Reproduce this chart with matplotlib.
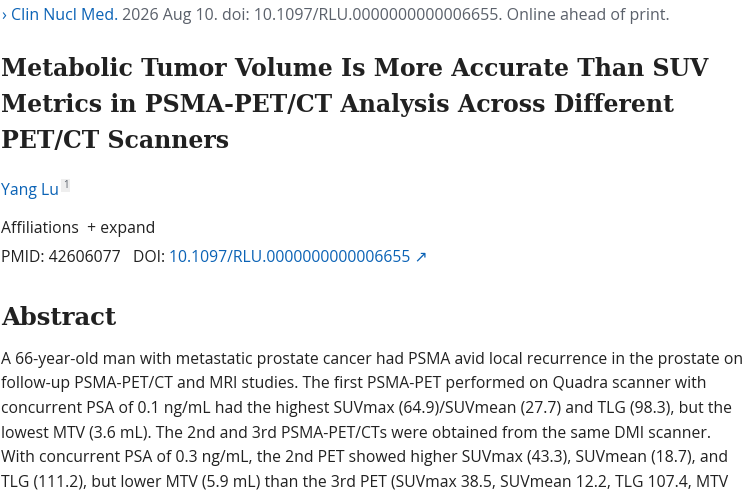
import matplotlib
matplotlib.use("Agg")
import matplotlib.pyplot as plt

W, H = 750, 500
BLUE = "#0b63b6"
DARK = "#212121"
GRAY = "#5b616b"

citation = [("\u203a ", BLUE), ("Clin Nucl Med.", BLUE),
            (" 2026 Aug 10. doi: 10.1097/RLU.0000000000006655. Online ahead of print.", GRAY)]
title_lines = ["Metabolic Tumor Volume Is More Accurate Than SUV",
               "Metrics in PSMA-PET/CT Analysis Across Different",
               "PET/CT Scanners"]
author = "Yang Lu"
ids = [("PMID: 42606077   DOI: ", DARK), ("10.1097/RLU.0000000000006655 \u2197", BLUE)]
abstract_lines = [
    "A 66-year-old man with metastatic prostate cancer had PSMA avid local recurrence in the prostate on",
    "follow-up PSMA-PET/CT and MRI studies. The first PSMA-PET performed on Quadra scanner with",
    "concurrent PSA of 0.1 ng/mL had the highest SUVmax (64.9)/SUVmean (27.7) and TLG (98.3), but the",
    "lowest MTV (3.6 mL). The 2nd and 3rd PSMA-PET/CTs were obtained from the same DMI scanner.",
    "With concurrent PSA of 0.3 ng/mL, the 2nd PET showed higher SUVmax (43.3), SUVmean (18.7), and",
    "TLG (111.2), but lower MTV (5.9 mL) than the 3rd PET (SUVmax 38.5, SUVmean 12.2, TLG 107.4, MTV",
]

fig = plt.figure(figsize=(7.5, 5), dpi=100)
fig.patch.set_facecolor("white")
r = fig.canvas.get_renderer()
SANS = ["Open Sans", "DejaVu Sans"]
SERIF = ["DejaVu Serif"]


def put(x, y, s, size, color, family=SANS, weight="normal", stretch=None):
    t = fig.text(x / W, 1 - y / H, s, fontsize=size, color=color, family=family,
                 weight=weight, va="baseline", ha="left")
    if stretch:
        # shrink the text so it spans the same width as in the reference
        w = t.get_window_extent(r).width
        t.set_fontsize(size * stretch / w)
    return x + t.get_window_extent(r).width


def pieces(x, y, parts, size):
    for s, c in parts:
        x = put(x, y, s, size, c)
    return x


pieces(2, 20, citation, 11.5)
tsize = 19.5
tmp = fig.text(0, 0, title_lines[0], fontsize=tsize, family=SERIF, weight="bold")
tsize = tsize * 711 / tmp.get_window_extent(r).width
tmp.remove()
for i, line in enumerate(title_lines):
    put(1, 76 + i * 36, line, tsize, DARK, family=SERIF, weight="bold")
x = put(1, 195, author, 11.3, BLUE)
fig.text((x + 4) / W, 1 - 188 / H, "1", fontsize=7, color=GRAY, family=SANS,
         va="baseline", bbox=dict(boxstyle="square,pad=0.15", fc="#eeeeee", ec="none"))
put(1, 233, "Affiliations  + expand", 11.3, DARK)
pieces(1, 262, ids, 11.3)
put(1, 325, "Abstract", 17.5, DARK, family=SERIF, weight="bold")
asize = 10.7
tmp = fig.text(0, 0, abstract_lines[0], fontsize=asize, family=SANS)
asize = asize * 744 / tmp.get_window_extent(r).width
tmp.remove()
for i, line in enumerate(abstract_lines):
    put(1, 364 + i * 24.5, line, asize, DARK)

fig.savefig("out.png", dpi=100, facecolor="white")
